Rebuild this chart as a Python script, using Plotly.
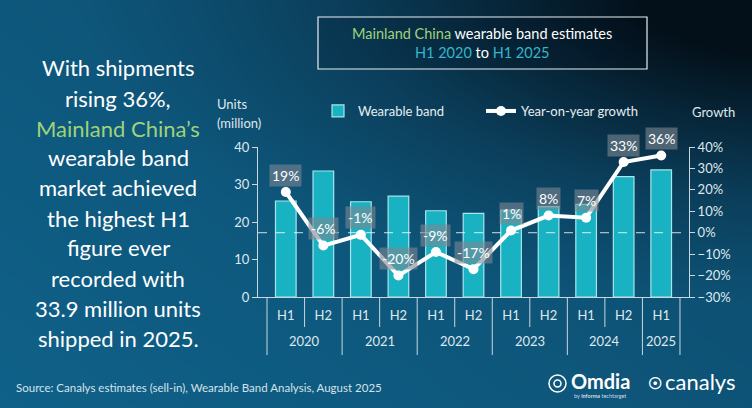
import numpy as np
import plotly.graph_objects as go

# ---------------- data ----------------
years = ["2020", "2020", "2021", "2021", "2022", "2022", "2023", "2023", "2024", "2024", "2025"]
halves = ["H1", "H2", "H1", "H2", "H1", "H2", "H1", "H2", "H1", "H2", "H1"]
shipments = [25.6, 33.6, 25.4, 26.9, 23.0, 22.3, 23.2, 24.1, 24.7, 32.1, 33.9]
growth = [19, -6, -1, -20, -9, -17, 1, 8, 7, 33, 36]
growth_labels = [f"{g}%" for g in growth]

W, H = 752, 408
FONT = "Lato"


def px(x):
    return x / W


def py(y):
    return 1 - y / H


cats = [f"{y} {h}" for y, h in zip(years, halves)]

# ---------------- background gradient (decorative) ----------------
gx = np.linspace(0, 1, 60)
gy = np.linspace(0, 1, 40)
XX, YY = np.meshgrid(gx, gy)
d = np.sqrt(((1 - XX) / 0.9) ** 2 + ((1 - YY) / 0.75) ** 2)
zbg = 0.2 * XX + 0.15 * YY + 0.85 * np.clip(1 - d, 0, 1) ** 1.2
zbg = np.clip(zbg, 0, 1)

fig = go.Figure()
fig.add_trace(go.Heatmap(
    x=gx, y=gy, z=zbg, xaxis="x", yaxis="y", zmin=0, zmax=1,
    colorscale=[[0, "#0f6189"], [0.5, "#0b3f5c"], [1, "#03101a"]],
    showscale=False, hoverinfo="skip", zsmooth="best", showlegend=False,
))

# ---------------- chart traces ----------------
fig.add_trace(go.Bar(
    x=cats, y=shipments, name="Wearable band",
    xaxis="x2", yaxis="y2",
    marker=dict(color="#18b2c2", line=dict(color="#a6e6ec", width=1.2)),
))
fig.add_trace(go.Scatter(
    x=cats, y=growth, name="Year-on-year growth",
    xaxis="x2", yaxis="y3", mode="lines+markers",
    line=dict(color="white", width=4),
    marker=dict(color="white", size=10),
))

axis_col = "#c9d7df"
tick_font = dict(family=FONT, size=13, color="#dfe8ee")

fig.update_layout(
    width=W, height=H,
    margin=dict(l=0, r=0, t=0, b=0, pad=0, autoexpand=False),
    paper_bgcolor="#0b3f5c",
    plot_bgcolor="rgba(0,0,0,0)",
    font=dict(family=FONT, color="white"),
    bargap=0.45,
    xaxis=dict(domain=[0, 1], range=[0, 1], visible=False, fixedrange=True, automargin=False),
    yaxis=dict(domain=[0, 1], range=[0, 1], visible=False, fixedrange=True, automargin=False),
    xaxis2=dict(
        type="category", domain=[px(258), px(689)], anchor="y2",
        tickvals=cats, ticktext=halves,
        showline=True, linecolor=axis_col, linewidth=1,
        tickfont=tick_font, showgrid=False, ticks="outside", ticklen=6,
        tickcolor="rgba(0,0,0,0)", automargin=False,
    ),
    yaxis2=dict(
        domain=[py(297), py(147)], anchor="x2", range=[0, 40], dtick=10,
        showline=True, linecolor=axis_col, ticks="outside", ticklen=5,
        tickcolor=axis_col, showgrid=False, zeroline=False, tickfont=tick_font,
        automargin=False,
    ),
    yaxis3=dict(
        overlaying="y2", side="right", anchor="x2", range=[-30, 40], dtick=10,
        ticksuffix="%", showline=True, linecolor=axis_col, ticks="outside",
        ticklen=5, tickcolor=axis_col, showgrid=False, zeroline=False,
        tickfont=tick_font, automargin=False,
    ),
    legend=dict(
        orientation="h", x=px(318), y=py(111), xanchor="left", yanchor="middle",
        bgcolor="rgba(0,0,0,0)", font=dict(family=FONT, size=13, color="#e6eef2"),
        entrywidth=118, traceorder="normal",
    ),
    showlegend=True,
)

shapes = []
# dashed zero line for growth
shapes.append(dict(type="line", xref="x2 domain", yref="y3", x0=0, x1=1, y0=0, y1=0,
                   line=dict(color="rgba(255,255,255,0.8)", width=1, dash="dash"), layer="above"))
# category dividers (half-year short, year boundaries long)
n = len(cats)
for i in range(n + 1):
    boundary_year = (i == 0 or i == n or years[i] != years[i - 1])
    y_end = 355 if boundary_year else 327
    shapes.append(dict(type="line", xref="x2", yref="paper", x0=i - 0.5, x1=i - 0.5,
                       y0=py(297), y1=py(y_end), line=dict(color=axis_col, width=1),
                       layer="above"))
# title box
shapes.append(dict(type="rect", xref="paper", yref="paper", x0=px(318), x1=px(647),
                   y0=py(69), y1=py(17), line=dict(color="#e8eef2", width=1.2),
                   fillcolor="rgba(0,10,20,0.15)", layer="above"))
# Omdia icon
shapes.append(dict(type="circle", xref="paper", yref="paper", x0=px(549), x1=px(566),
                   y0=py(392), y1=py(375), line=dict(color="white", width=1.5), layer="above"))
shapes.append(dict(type="circle", xref="paper", yref="paper", x0=px(554), x1=px(561),
                   y0=py(387), y1=py(380), line=dict(color="white", width=1.5), layer="above"))
fig.update_layout(shapes=shapes)

ann = []
# growth labels
for i, (g, lab) in enumerate(zip(growth, growth_labels)):
    ann.append(dict(x=cats[i], y=g, xref="x2", yref="y3", text=lab, showarrow=False,
                    yshift=17, bgcolor="rgba(125,135,145,0.6)", borderpad=2,
                    font=dict(family=FONT, size=14, color="white")))

# year labels centred under their half-years
seen = []
for y in years:
    if y not in seen:
        seen.append(y)
for y in seen:
    idx = [i for i, v in enumerate(years) if v == y]
    ann.append(dict(x=sum(idx) / len(idx), y=py(341), xref="x2", yref="paper",
                    text=y, showarrow=False, yanchor="middle",
                    font=tick_font))

# left narrative text
lines = ["With shipments", "rising 36%,", "Mainland China\u2019s", "wearable band",
         "market achieved", "the highest H1", "figure ever", "recorded with",
         "33.9 million units", "shipped in 2025."]
for k, t in enumerate(lines):
    col = "#9fd27a" if "Mainland" in t else "white"
    ann.append(dict(x=px(118), y=py(68 + 30 * k), xref="paper", yref="paper",
                    text=t, showarrow=False, xanchor="center", yanchor="middle",
                    font=dict(family=FONT, size=22, color=col)))

# title
ann.append(dict(x=px(482), y=py(33), xref="paper", yref="paper", showarrow=False,
                yanchor="middle",
                text="<span style='color:#9fd27a'>Mainland China</span> wearable band estimates",
                font=dict(family=FONT, size=14.5, color="white")))
ann.append(dict(x=px(482), y=py(53), xref="paper", yref="paper", showarrow=False,
                yanchor="middle",
                text="<span style='color:#35b6cc'>H1 2020</span> to <span style='color:#35b6cc'>H1 2025</span>",
                font=dict(family=FONT, size=14.5, color="white")))

# axis titles
ann.append(dict(x=px(215), y=py(104), xref="paper", yref="paper", showarrow=False,
                xanchor="left", yanchor="middle", text="Units",
                font=dict(family=FONT, size=13, color="#dfe8ee")))
ann.append(dict(x=px(215), y=py(123), xref="paper", yref="paper", showarrow=False,
                xanchor="left", yanchor="middle", text="(million)",
                font=dict(family=FONT, size=13, color="#dfe8ee")))
ann.append(dict(x=px(690), y=py(112), xref="paper", yref="paper", showarrow=False,
                xanchor="left", yanchor="middle", text="Growth",
                font=dict(family=FONT, size=13, color="#dfe8ee")))

# footer
ann.append(dict(x=px(14), y=py(387), xref="paper", yref="paper", showarrow=False,
                xanchor="left", yanchor="middle",
                text="Source: Canalys estimates (sell-in), Wearable Band Analysis, August 2025",
                font=dict(family=FONT, size=11.5, color="#d5e2ea")))
ann.append(dict(x=px(569), y=py(381), xref="paper", yref="paper", showarrow=False,
                xanchor="left", yanchor="middle", text="<b>Omdia</b>",
                font=dict(family=FONT, size=20, color="white")))
ann.append(dict(x=px(572), y=py(396), xref="paper", yref="paper", showarrow=False,
                xanchor="left", yanchor="middle", text="by <b>informa</b> techtarget",
                font=dict(family=FONT, size=5.5, color="#cfdde5")))
ann.append(dict(x=px(646), y=py(382), xref="paper", yref="paper", showarrow=False,
                xanchor="left", yanchor="middle", text="<b>\u2609</b>",
                font=dict(family=FONT, size=16, color="white")))
ann.append(dict(x=px(663), y=py(381), xref="paper", yref="paper", showarrow=False,
                xanchor="left", yanchor="middle", text="canalys",
                font=dict(family=FONT, size=22, color="white")))

fig.update_layout(annotations=ann)

fig.write_html("out.html")
